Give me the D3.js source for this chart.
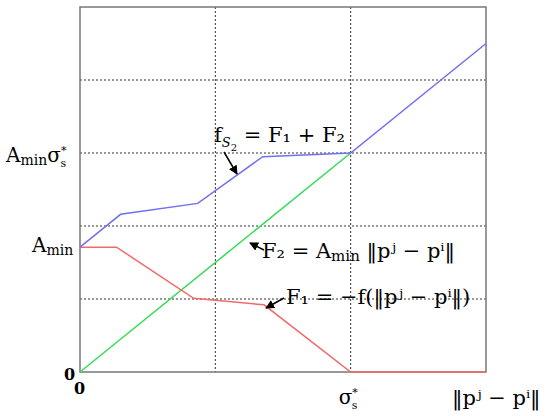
<!DOCTYPE html>
<html><head><meta charset="utf-8">
<script src="https://d3js.org/d3.v7.min.js"></script>
<style>body{margin:0;background:#fff}text{font-family:"DejaVu Serif","Liberation Serif",serif;fill:#000}</style>
</head><body><div id="chart"></div>
<script>
// values in plot units (x: 0..3, y: 0..5)
var redPts = [[0,1.71],[0.27,1.71],[0.84,1.01],[1.36,0.92],[2,0],[3,0]];
var bluePts = [[0,1.71],[0.30,2.16],[0.87,2.31],[1.35,2.95],[2,3],[3,4.5]];
var greenPts = [[0,0],[2,3]];
var xGrid = [1,2];
var yGrid = [1,2,3,4];

var svgWidth = 550, svgHeight = 416;
var margin = {top: 7, right: 64, bottom: 44, left: 80};
var width = svgWidth - margin.left - margin.right;
var height = svgHeight - margin.top - margin.bottom;

var svg = d3.select("#chart").append("svg").attr("width", svgWidth).attr("height", svgHeight);
var g = svg.append("g").attr("transform", `translate(${margin.left}, ${margin.top})`);

var x = d3.scaleLinear().domain([0,3]).range([0,width]);
var y = d3.scaleLinear().domain([0,5]).range([height,0]);

g.selectAll(".vg").data(xGrid).enter().append("line")
  .attr("x1", d => x(d)).attr("x2", d => x(d)).attr("y1", 0).attr("y2", height)
  .attr("stroke", "#333").attr("stroke-dasharray", "2,2");
g.selectAll(".hg").data(yGrid).enter().append("line")
  .attr("y1", d => y(d)).attr("y2", d => y(d)).attr("x1", 0).attr("x2", width)
  .attr("stroke", "#333").attr("stroke-dasharray", "2,2");

g.append("rect").attr("width", width).attr("height", height)
  .attr("fill", "none").attr("stroke", "#777").attr("stroke-width", 1.5);

var line = d3.line().x(d => x(d[0])).y(d => y(d[1]));
g.append("path").attr("d", line(greenPts)).attr("fill","none").attr("stroke","#33dd55").attr("stroke-width",1.5);
g.append("path").attr("d", line(redPts)).attr("fill","none").attr("stroke","#f06a6a").attr("stroke-width",1.5);
g.append("path").attr("d", line(bluePts)).attr("fill","none").attr("stroke","#7070f0").attr("stroke-width",1.5);

// axis labels
svg.append("text").attr("x", 64).attr("y", 380).attr("font-size", 16).attr("font-weight","bold").text("0");
svg.append("text").attr("x", 74).attr("y", 394).attr("font-size", 16).attr("font-weight","bold").text("0");
svg.append("text").attr("x", 6).attr("y", 162).attr("font-size", 20).html('A<tspan font-size="14" dy="3">min</tspan><tspan dy="-3">σ</tspan><tspan font-size="11" dy="-8">*</tspan><tspan font-size="11" dx="-6" dy="13">s</tspan>');
svg.append("text").attr("x", 32).attr("y", 252).attr("font-size", 20).html('A<tspan font-size="14" dy="3">min</tspan>');
svg.append("text").attr("x", x(2) + margin.left - 12).attr("y", 404).attr("font-size", 20).html('σ<tspan font-size="11" dy="-8">*</tspan><tspan font-size="11" dx="-6" dy="13">s</tspan>');
svg.append("text").attr("x", 452).attr("y", 405).attr("font-size", 21).text("‖pʲ − pⁱ‖");

// annotations
svg.append("text").attr("x", 214).attr("y", 142).attr("font-size", 21).html('f<tspan font-size="13" dy="5" font-style="italic">S</tspan><tspan font-size="10" dy="4">2</tspan><tspan dy="-9"> = F₁ + F₂</tspan>');
svg.append("text").attr("x", 262).attr("y", 258).attr("font-size", 21).html('F₂ = A<tspan font-size="15" dy="3">min</tspan><tspan dy="-3">  ‖pʲ − pⁱ‖</tspan>');
svg.append("text").attr("x", 286).attr("y", 304).attr("font-size", 21).text("F₁ = −f(‖pʲ − pⁱ‖)");

svg.append("defs").append("marker").attr("id","ah").attr("viewBox","0 0 10 10").attr("refX",9).attr("refY",5)
  .attr("markerWidth",6).attr("markerHeight",6).attr("orient","auto")
  .append("path").attr("d","M0,0L10,5L0,10z").attr("fill","#000");
function arrow(x1,y1,x2,y2){
  svg.append("line").attr("x1",x1).attr("y1",y1).attr("x2",x2).attr("y2",y2)
    .attr("stroke","#000").attr("stroke-width",1.5).attr("marker-end","url(#ah)");
}
arrow(224,152,237,174);
arrow(264,250,250,243);
arrow(284,298,266,308);
</script></body></html>
